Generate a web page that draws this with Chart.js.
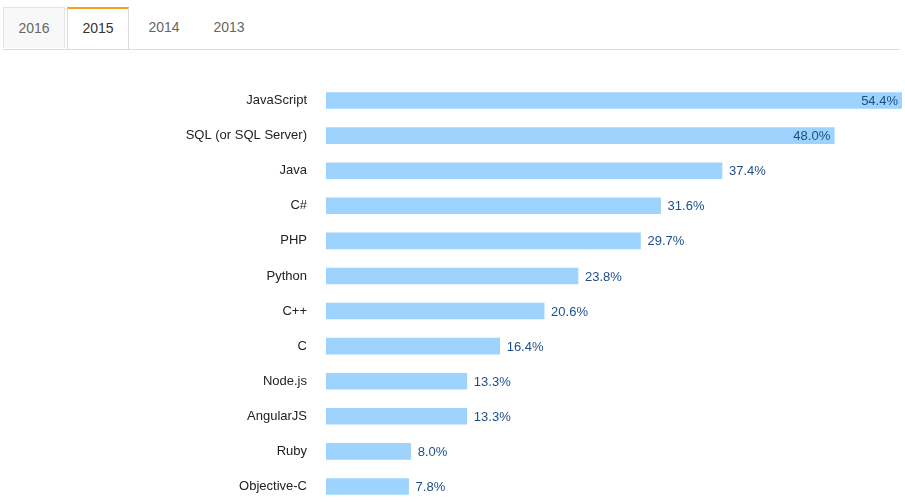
<!DOCTYPE html>
<html>
<head>
<meta charset="utf-8">
<script src="https://cdn.jsdelivr.net/npm/chart.js@4/dist/chart.umd.min.js"></script>
<style>
  html, body { margin: 0; padding: 0; background: #fff; }
  body { width: 905px; height: 502px; position: relative; overflow: hidden; font-family: "Liberation Sans", Arial, sans-serif; }
  .tabs { position: absolute; left: 3px; top: 7px; width: 897px; height: 42px; border-bottom: 1px solid #dcdcdc; }
  .tab { position: absolute; top: 0; height: 41px; width: 62px; line-height: 41px; text-align: center; font-size: 14px; color: #666; box-sizing: border-box; }
  .tab.t2016 { left: 0; background: #f8f8f8; border: 1px solid #e4e4e4; border-bottom: none; }
  .tab.active { left: 64px; height: 42px; background: #fff; border-top: 2px solid #f5a01a; border-left: 1px solid #dcdcdc; border-right: 1px solid #dcdcdc; color: #333; line-height: 39px; }
  .tab.t2014 { left: 130px; }
  .tab.t2013 { left: 195px; }
  #chart { position: absolute; left: 0; top: 83px; }
</style>
</head>
<body>
<div class="tabs">
  <div class="tab t2016">2016</div>
  <div class="tab active">2015</div>
  <div class="tab t2014">2014</div>
  <div class="tab t2013">2013</div>
</div>
<canvas id="chart" width="905" height="421"></canvas>
<script>
const languages = ['JavaScript', 'SQL (or SQL Server)', 'Java', 'C#', 'PHP', 'Python', 'C++', 'C', 'Node.js', 'AngularJS', 'Ruby', 'Objective-C'];
const shares = [54.4, 48.0, 37.4, 31.6, 29.7, 23.8, 20.6, 16.4, 13.3, 13.3, 8.0, 7.8];

const barColor = '#9dd3fc';
const valueColor = '#1c4f8a';

// value labels: inside the bar when it is long, otherwise after it
const valueLabels = {
  id: 'valueLabels',
  afterDatasetsDraw(chart) {
    const c = chart.ctx;
    const meta = chart.getDatasetMeta(0);
    const max = chart.scales.x.max;
    c.save();
    c.font = '13px "Liberation Sans", Arial, sans-serif';
    c.fillStyle = valueColor;
    c.textBaseline = 'middle';
    meta.data.forEach((bar, i) => {
      const v = shares[i];
      const txt = v.toFixed(1) + '%';
      if (v / max > 0.8) {
        c.textAlign = 'right';
        c.fillText(txt, bar.x - 4, bar.y + 1);
      } else {
        c.textAlign = 'left';
        c.fillText(txt, bar.x + 7, bar.y + 1);
      }
    });
    c.restore();
  }
};

new Chart(document.getElementById('chart'), {
  type: 'bar',
  data: {
    labels: languages,
    datasets: [{
      data: shares,
      backgroundColor: barColor,
      borderWidth: 0,
      barThickness: 16,
    }],
  },
  options: {
    indexAxis: 'y',
    responsive: false,
    animation: false,
    layout: { padding: { left: 0, right: 3, top: 0, bottom: 0 } },
    plugins: {
      legend: { display: false },
      tooltip: { enabled: false },
    },
    scales: {
      x: {
        display: false,
        min: 0,
        max: 54.4,
      },
      y: {
        // fixed label column, and no extra top/bottom room for the labels
        afterFit(scale) {
          scale.width = 326;
          scale.paddingTop = 0;
          scale.paddingBottom = 0;
        },
        border: { display: false },
        grid: { display: false, drawTicks: false },
        ticks: {
          padding: 19,
          color: '#222',
          font: { family: '"Liberation Sans", Arial, sans-serif', size: 13 },
        },
      },
    },
  },
  plugins: [valueLabels],
});
</script>
</body>
</html>
